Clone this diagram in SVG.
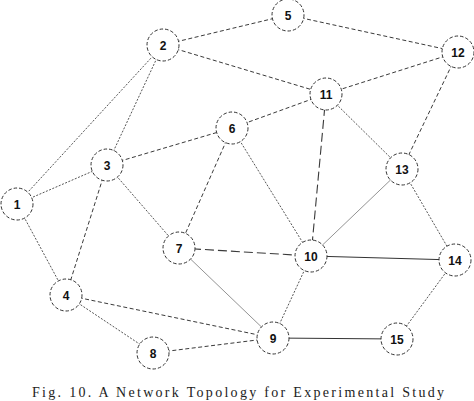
<svg xmlns="http://www.w3.org/2000/svg" width="474" height="401" viewBox="0 0 474 401">
<style>
line{stroke:#3a3a3a;stroke-width:1;fill:none}
.dash{stroke-dasharray:4 2.5}
.dot{stroke-dasharray:2 1.5;stroke:#555}
.long{stroke-dasharray:9 4;stroke-width:1.1}
.thin{stroke:#777;stroke-width:0.8}
.solid{stroke:#333}
circle{fill:#fff;stroke:#333;stroke-width:1;stroke-dasharray:3.5 2}
text.n{font-family:"Liberation Sans",Arial,sans-serif;font-weight:bold;font-size:12px;text-anchor:middle;fill:#111}
text.cap{font-family:"Liberation Serif","Times New Roman",serif;font-size:14px;fill:#222}
</style>
<rect width="474" height="401" fill="#fff"/>
<g id="connectors">
<line class="dot" x1="17" y1="204" x2="163" y2="45"/>
<line class="dot" x1="17" y1="204" x2="107" y2="165"/>
<line class="dot" x1="17" y1="204" x2="66" y2="295"/>
<line class="dash" x1="163" y1="45" x2="288" y2="15"/>
<line class="dash" x1="163" y1="45" x2="326" y2="94"/>
<line class="dot" x1="163" y1="45" x2="107" y2="165"/>
<line class="dash" x1="107" y1="165" x2="232" y2="128"/>
<line class="dot" x1="107" y1="165" x2="179" y2="248"/>
<line class="dash" x1="107" y1="165" x2="66" y2="295"/>
<line class="dash" x1="288" y1="15" x2="458" y2="52"/>
<line class="dash" x1="458" y1="52" x2="326" y2="94"/>
<line class="dash" x1="458" y1="52" x2="402" y2="169"/>
<line class="dash" x1="326" y1="94" x2="232" y2="128"/>
<line class="long" x1="326" y1="94" x2="311" y2="256"/>
<line class="dot" x1="326" y1="94" x2="402" y2="169"/>
<line class="dash" x1="232" y1="128" x2="179" y2="248"/>
<line class="dot" x1="232" y1="128" x2="311" y2="256"/>
<line class="long" x1="179" y1="248" x2="311" y2="256"/>
<line class="thin" x1="179" y1="248" x2="273" y2="338"/>
<line class="dash" x1="66" y1="295" x2="273" y2="338"/>
<line class="dot" x1="66" y1="295" x2="153" y2="353"/>
<line class="dash" x1="153" y1="353" x2="273" y2="338"/>
<line class="thin" x1="311" y1="256" x2="402" y2="169"/>
<line class="solid" x1="311" y1="256" x2="455" y2="260"/>
<line class="dot" x1="311" y1="256" x2="273" y2="338"/>
<line class="dot" x1="402" y1="169" x2="455" y2="260"/>
<line class="dot" x1="455" y1="260" x2="397" y2="339"/>
<line class="solid" x1="273" y1="338" x2="397" y2="339"/>
</g>
<g id="n1"><circle cx="17" cy="204" r="16"/><text class="n" x="17" y="208.5">1</text></g>
<g id="n2"><circle cx="163" cy="45" r="16"/><text class="n" x="163" y="49.5">2</text></g>
<g id="n3"><circle cx="107" cy="165" r="16"/><text class="n" x="107" y="169.5">3</text></g>
<g id="n4"><circle cx="66" cy="295" r="16"/><text class="n" x="66" y="299.5">4</text></g>
<g id="n5"><circle cx="288" cy="15" r="16"/><text class="n" x="288" y="19.5">5</text></g>
<g id="n6"><circle cx="232" cy="128" r="16"/><text class="n" x="232" y="132.5">6</text></g>
<g id="n7"><circle cx="179" cy="248" r="16"/><text class="n" x="179" y="252.5">7</text></g>
<g id="n8"><circle cx="153" cy="353" r="16"/><text class="n" x="153" y="357.5">8</text></g>
<g id="n9"><circle cx="273" cy="338" r="16"/><text class="n" x="273" y="342.5">9</text></g>
<g id="n10"><circle cx="311" cy="256" r="16"/><text class="n" x="311" y="260.5">10</text></g>
<g id="n11"><circle cx="326" cy="94" r="16"/><text class="n" x="326" y="98.5">11</text></g>
<g id="n12"><circle cx="458" cy="52" r="16"/><text class="n" x="458" y="56.5">12</text></g>
<g id="n13"><circle cx="402" cy="169" r="16"/><text class="n" x="402" y="173.5">13</text></g>
<g id="n14"><circle cx="455" cy="260" r="16"/><text class="n" x="455" y="264.5">14</text></g>
<g id="n15"><circle cx="397" cy="339" r="16"/><text class="n" x="397" y="343.5">15</text></g>
<text class="cap" x="32" y="397" textLength="412" lengthAdjust="spacing">Fig. 10. A Network Topology for Experimental Study</text>
</svg>
